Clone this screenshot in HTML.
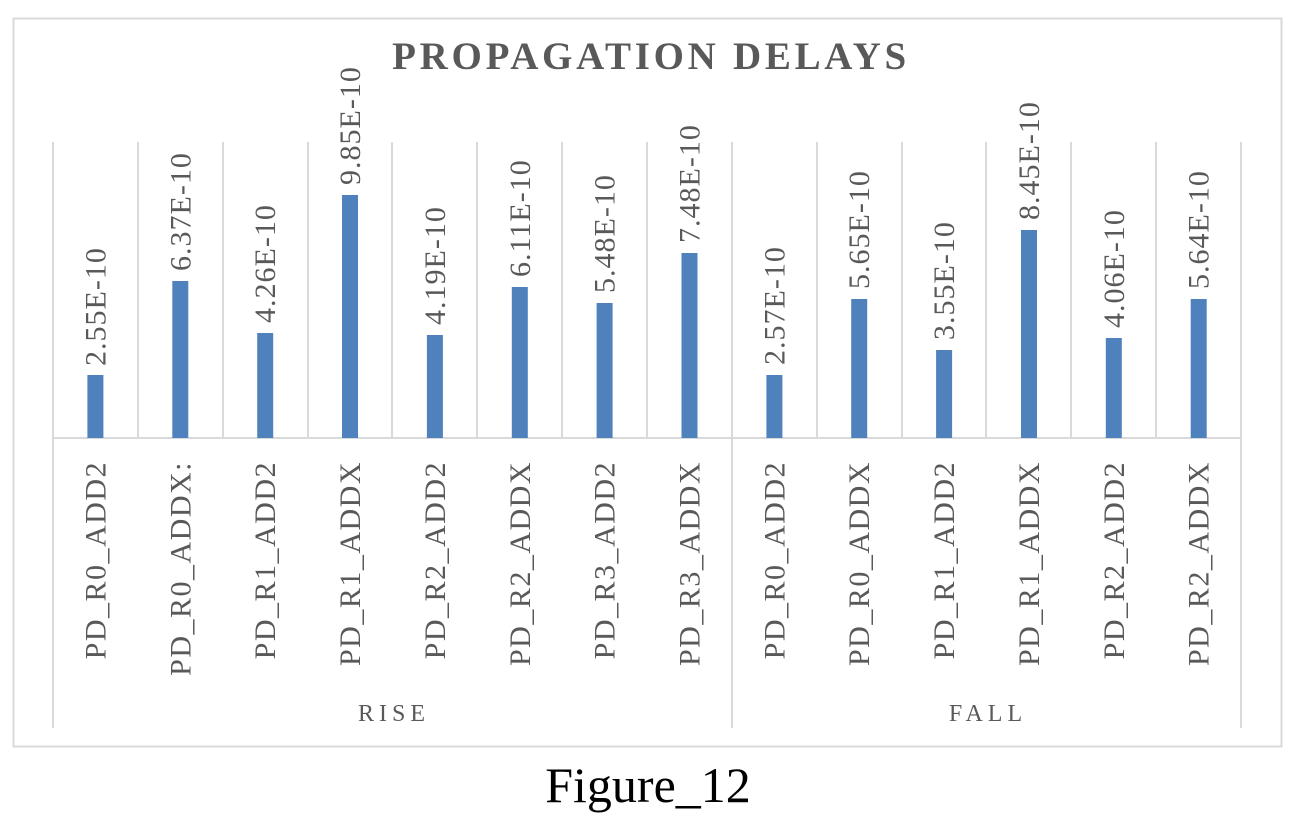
<!DOCTYPE html>
<html><head><meta charset="utf-8"><style>
html,body{margin:0;padding:0;background:#fff;}
svg{display:block;}
</style></head><body>
<svg width="1302" height="818" viewBox="0 0 1302 818" xmlns="http://www.w3.org/2000/svg">
<rect x="13.5" y="18.5" width="1268" height="728" fill="#fff" stroke="#d9d9d9" stroke-width="2"/>
<text x="651" y="69" text-anchor="middle" font-family="Liberation Serif, serif" font-weight="bold" font-size="39" letter-spacing="3.7" fill="#595959">PROPAGATION DELAYS</text>
<g stroke="#d9d9d9" stroke-width="2">
<line x1="53" y1="142" x2="53" y2="728"/>
<line x1="138" y1="142" x2="138" y2="438"/>
<line x1="223" y1="142" x2="223" y2="438"/>
<line x1="308" y1="142" x2="308" y2="438"/>
<line x1="392" y1="142" x2="392" y2="438"/>
<line x1="477" y1="142" x2="477" y2="438"/>
<line x1="562" y1="142" x2="562" y2="438"/>
<line x1="647" y1="142" x2="647" y2="438"/>
<line x1="732" y1="142" x2="732" y2="728"/>
<line x1="817" y1="142" x2="817" y2="438"/>
<line x1="902" y1="142" x2="902" y2="438"/>
<line x1="986" y1="142" x2="986" y2="438"/>
<line x1="1071" y1="142" x2="1071" y2="438"/>
<line x1="1156" y1="142" x2="1156" y2="438"/>
<line x1="1241" y1="142" x2="1241" y2="728"/>
<line x1="53" y1="438" x2="1241" y2="438"/>
</g>
<g fill="#4f81bd">
<rect x="87.4" y="375" width="16" height="63"/>
<rect x="172.3" y="281" width="16" height="157"/>
<rect x="257.2" y="333" width="16" height="105"/>
<rect x="342" y="195" width="16" height="243"/>
<rect x="426.9" y="335" width="16" height="103"/>
<rect x="511.8" y="287" width="16" height="151"/>
<rect x="596.6" y="303" width="16" height="135"/>
<rect x="681.5" y="253" width="16" height="185"/>
<rect x="766.4" y="375" width="16" height="63"/>
<rect x="851.2" y="299" width="16" height="139"/>
<rect x="936.1" y="350" width="16" height="88"/>
<rect x="1021" y="230" width="16" height="208"/>
<rect x="1105.8" y="338" width="16" height="100"/>
<rect x="1190.7" y="299" width="16" height="139"/>
</g>
<g font-family="Liberation Serif, serif" font-size="30" letter-spacing="1" fill="#595959">
<text transform="translate(105.4,366) rotate(-90)">2.55E-10</text>
<text transform="translate(190.3,271) rotate(-90)">6.37E-10</text>
<text transform="translate(275.2,323) rotate(-90)">4.26E-10</text>
<text transform="translate(360,185) rotate(-90)">9.85E-10</text>
<text transform="translate(444.9,325) rotate(-90)">4.19E-10</text>
<text transform="translate(529.8,277) rotate(-90)">6.11E-10</text>
<text transform="translate(614.6,293) rotate(-90)">5.48E-10</text>
<text transform="translate(699.5,243) rotate(-90)">7.48E-10</text>
<text transform="translate(784.4,365) rotate(-90)">2.57E-10</text>
<text transform="translate(869.2,289) rotate(-90)">5.65E-10</text>
<text transform="translate(954.1,340) rotate(-90)">3.55E-10</text>
<text transform="translate(1039,220) rotate(-90)">8.45E-10</text>
<text transform="translate(1123.8,328) rotate(-90)">4.06E-10</text>
<text transform="translate(1208.7,289) rotate(-90)">5.64E-10</text>
</g>
<g font-family="Liberation Serif, serif" font-size="30" fill="#595959" letter-spacing="1.5" text-anchor="end">
<text transform="translate(105.4,461) rotate(-90)">PD_R0_ADD2</text>
<text transform="translate(190.3,461) rotate(-90)">PD_R0_ADDX:</text>
<text transform="translate(275.2,461) rotate(-90)">PD_R1_ADD2</text>
<text transform="translate(360,461) rotate(-90)">PD_R1_ADDX</text>
<text transform="translate(444.9,461) rotate(-90)">PD_R2_ADD2</text>
<text transform="translate(529.8,461) rotate(-90)">PD_R2_ADDX</text>
<text transform="translate(614.6,461) rotate(-90)">PD_R3_ADD2</text>
<text transform="translate(699.5,461) rotate(-90)">PD_R3_ADDX</text>
<text transform="translate(784.4,461) rotate(-90)">PD_R0_ADD2</text>
<text transform="translate(869.2,461) rotate(-90)">PD_R0_ADDX</text>
<text transform="translate(954.1,461) rotate(-90)">PD_R1_ADD2</text>
<text transform="translate(1039,461) rotate(-90)">PD_R1_ADDX</text>
<text transform="translate(1123.8,461) rotate(-90)">PD_R2_ADD2</text>
<text transform="translate(1208.7,461) rotate(-90)">PD_R2_ADDX</text>
</g>
<g font-family="Liberation Serif, serif" font-size="24" fill="#595959" letter-spacing="5" text-anchor="middle">
<text x="394" y="721">RISE</text>
<text x="988" y="721">FALL</text>
</g>
<text x="648" y="802" text-anchor="middle" font-family="Liberation Serif, serif" font-size="50" fill="#000">Figure_12</text>
</svg>
</body></html>
